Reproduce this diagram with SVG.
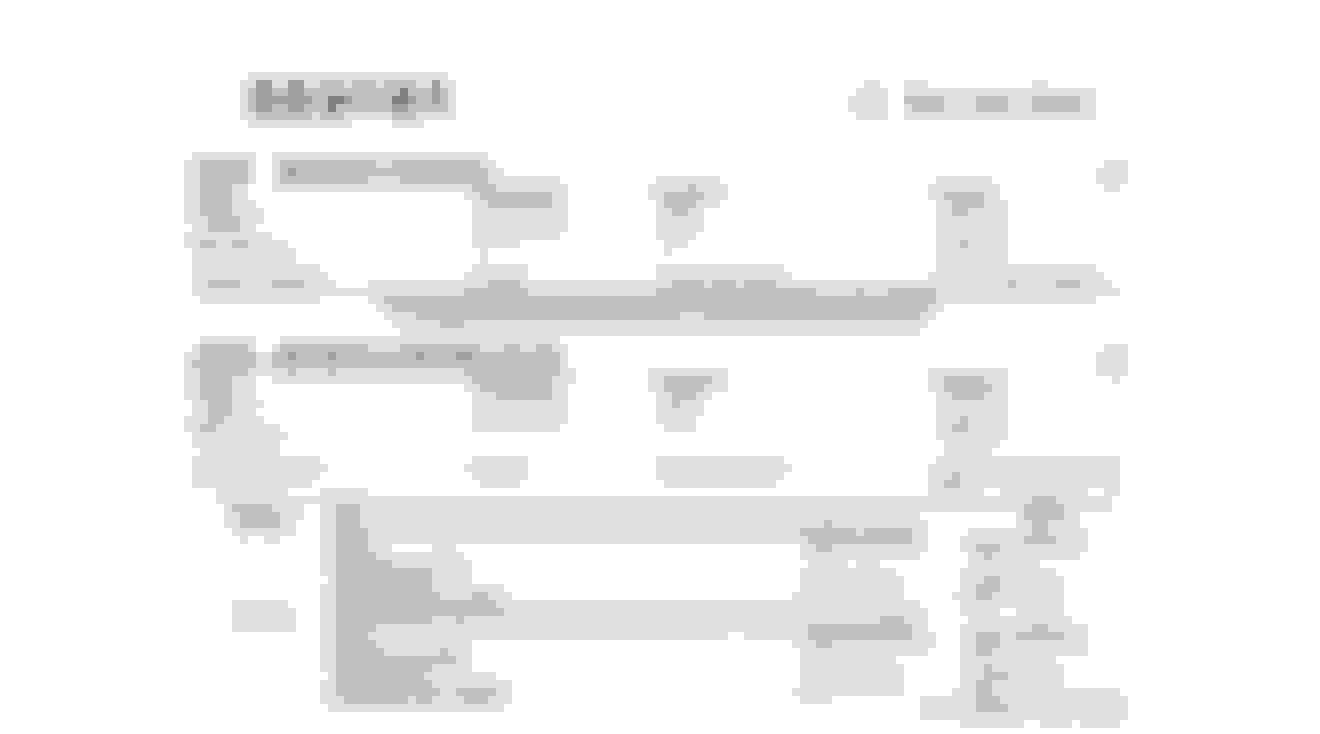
<svg xmlns="http://www.w3.org/2000/svg" width="1320" height="734" viewBox="0 0 1320 734">
<style>
rect{shape-rendering:crispEdges}
.l{fill:#e0e0e0}.m{fill:#c0c0c0}.d{fill:#a0a0a0}.k{fill:#808080}
</style>
<rect x="0" y="0" width="1320" height="734" fill="#ffffff"/>
<g id="connectors">
<rect class="l" x="336" y="288" width="32" height="8"/>
<rect class="l" x="480" y="248" width="8" height="16"/>
<rect class="l" x="216" y="496" width="104" height="8"/>
<rect class="l" x="256" y="352" width="16" height="24"/>
<rect class="l" x="856" y="496" width="256" height="16"/>
</g>
<g id="title">
<rect class="l" x="248" y="72" width="200" height="8"/>
<rect class="l" x="240" y="80" width="216" height="40"/>
<rect class="l" x="248" y="120" width="104" height="8"/>
<rect class="l" x="392" y="120" width="32" height="8"/>
<rect class="m" x="256" y="80" width="16" height="8"/>
<rect class="m" x="288" y="80" width="16" height="8"/>
<rect class="m" x="320" y="80" width="24" height="8"/>
<rect class="m" x="352" y="80" width="24" height="8"/>
<rect class="m" x="384" y="80" width="32" height="8"/>
<rect class="m" x="432" y="80" width="8" height="8"/>
<rect class="m" x="248" y="88" width="200" height="24"/>
<rect class="m" x="256" y="112" width="56" height="8"/>
<rect class="m" x="320" y="112" width="24" height="8"/>
<rect class="m" x="392" y="112" width="24" height="8"/>
<rect class="d" x="256" y="80" width="16" height="32"/>
<rect class="d" x="288" y="80" width="16" height="32"/>
<rect class="d" x="272" y="96" width="40" height="8"/>
<rect class="k" x="328" y="96" width="16" height="8"/>
<rect class="k" x="328" y="104" width="8" height="8"/>
<rect class="d" x="344" y="96" width="8" height="8"/>
<rect class="d" x="392" y="104" width="16" height="8"/>
<rect class="k" x="400" y="88" width="8" height="8"/>
<rect class="k" x="392" y="96" width="16" height="8"/>
<rect class="d" x="408" y="96" width="8" height="8"/>
<rect class="d" x="432" y="80" width="8" height="24"/>
</g>
<g id="legend">
<rect class="l" x="864" y="80" width="16" height="8"/>
<rect class="l" x="856" y="88" width="32" height="8"/>
<rect class="l" x="848" y="96" width="40" height="16"/>
<rect class="l" x="856" y="112" width="32" height="8"/>
<rect class="l" x="904" y="80" width="24" height="8"/>
<rect class="l" x="1032" y="80" width="16" height="8"/>
<rect class="l" x="904" y="88" width="192" height="32"/>
<rect class="m" x="904" y="96" width="40" height="8"/>
<rect class="m" x="912" y="104" width="32" height="8"/>
<rect class="m" x="976" y="96" width="32" height="16"/>
<rect class="m" x="1032" y="96" width="48" height="16"/>
</g>
<g id="r1-actor">
<rect class="l" x="192" y="152" width="64" height="8"/>
<rect class="l" x="184" y="160" width="72" height="24"/>
<rect class="l" x="184" y="184" width="64" height="16"/>
<rect class="l" x="184" y="200" width="72" height="8"/>
<rect class="l" x="184" y="208" width="80" height="16"/>
<rect class="l" x="192" y="224" width="64" height="8"/>
<rect class="l" x="184" y="232" width="88" height="8"/>
<rect class="l" x="184" y="240" width="104" height="8"/>
<rect class="l" x="192" y="248" width="104" height="8"/>
<rect class="m" x="200" y="160" width="48" height="24"/>
<rect class="m" x="200" y="184" width="32" height="32"/>
<rect class="m" x="208" y="216" width="32" height="16"/>
<rect class="m" x="200" y="240" width="16" height="8"/>
<rect class="m" x="232" y="240" width="16" height="8"/>
</g>
<g id="r1-label">
<rect class="l" x="192" y="256" width="104" height="8"/>
<rect class="l" x="192" y="264" width="128" height="8"/>
<rect class="l" x="192" y="272" width="136" height="8"/>
<rect class="l" x="192" y="280" width="144" height="16"/>
<rect class="l" x="200" y="296" width="120" height="8"/>
<rect class="m" x="208" y="280" width="32" height="8"/>
<rect class="m" x="272" y="280" width="32" height="8"/>
</g>
<g id="r1-header">
<rect class="l" x="272" y="152" width="216" height="8"/>
<rect class="l" x="272" y="160" width="224" height="8"/>
<rect class="l" x="272" y="168" width="232" height="8"/>
<rect class="l" x="272" y="176" width="288" height="8"/>
<rect class="l" x="272" y="184" width="296" height="8"/>
<rect class="l" x="464" y="192" width="104" height="8"/>
<rect class="l" x="472" y="200" width="96" height="32"/>
<rect class="l" x="472" y="232" width="88" height="8"/>
<rect class="l" x="472" y="240" width="48" height="8"/>
<rect class="m" x="280" y="160" width="96" height="8"/>
<rect class="m" x="392" y="160" width="88" height="8"/>
<rect class="m" x="280" y="168" width="208" height="8"/>
<rect class="m" x="280" y="176" width="88" height="8"/>
<rect class="m" x="400" y="176" width="88" height="8"/>
<rect class="m" x="472" y="184" width="24" height="8"/>
<rect class="m" x="480" y="192" width="72" height="8"/>
<rect class="m" x="488" y="200" width="64" height="8"/>
<rect class="d" x="288" y="168" width="8" height="8"/>
</g>
<g id="r1-band">
<rect class="l" x="472" y="264" width="56" height="8"/>
<rect class="l" x="656" y="264" width="128" height="8"/>
<rect class="l" x="464" y="272" width="64" height="8"/>
<rect class="l" x="656" y="272" width="136" height="8"/>
<rect class="l" x="368" y="280" width="568" height="24"/>
<rect class="l" x="376" y="304" width="568" height="8"/>
<rect class="l" x="384" y="312" width="552" height="8"/>
<rect class="l" x="392" y="320" width="536" height="8"/>
<rect class="l" x="400" y="328" width="520" height="8"/>
<rect class="m" x="488" y="280" width="32" height="8"/>
<rect class="m" x="672" y="280" width="32" height="8"/>
<rect class="m" x="712" y="280" width="24" height="8"/>
<rect class="m" x="744" y="280" width="32" height="8"/>
<rect class="m" x="464" y="288" width="64" height="8"/>
<rect class="m" x="656" y="288" width="160" height="8"/>
<rect class="m" x="856" y="288" width="8" height="8"/>
<rect class="m" x="888" y="288" width="48" height="8"/>
<rect class="m" x="384" y="296" width="552" height="8"/>
<rect class="m" x="392" y="304" width="536" height="8"/>
<rect class="m" x="416" y="312" width="264" height="8"/>
<rect class="m" x="704" y="312" width="216" height="8"/>
<rect class="m" x="440" y="320" width="24" height="8"/>
</g>
<g id="r1-funnel">
<rect class="l" x="656" y="176" width="64" height="8"/>
<rect class="l" x="648" y="184" width="80" height="16"/>
<rect class="l" x="656" y="200" width="64" height="8"/>
<rect class="l" x="656" y="208" width="48" height="24"/>
<rect class="l" x="656" y="232" width="40" height="8"/>
<rect class="l" x="664" y="240" width="24" height="8"/>
<rect class="l" x="664" y="248" width="8" height="8"/>
<rect class="m" x="688" y="184" width="8" height="8"/>
<rect class="m" x="664" y="192" width="40" height="8"/>
<rect class="m" x="664" y="200" width="32" height="8"/>
<rect class="m" x="672" y="208" width="16" height="8"/>
</g>
<g id="r1-right">
<rect class="l" x="936" y="176" width="56" height="8"/>
<rect class="l" x="928" y="184" width="72" height="16"/>
<rect class="l" x="936" y="200" width="72" height="64"/>
<rect class="l" x="936" y="264" width="160" height="8"/>
<rect class="l" x="928" y="272" width="176" height="8"/>
<rect class="l" x="936" y="280" width="176" height="8"/>
<rect class="l" x="936" y="288" width="184" height="8"/>
<rect class="l" x="936" y="296" width="160" height="8"/>
<rect class="m" x="944" y="192" width="40" height="8"/>
<rect class="m" x="952" y="200" width="32" height="8"/>
<rect class="m" x="952" y="208" width="16" height="8"/>
<rect class="m" x="960" y="240" width="8" height="8"/>
<rect class="m" x="1008" y="280" width="8" height="8"/>
<rect class="m" x="1056" y="280" width="24" height="8"/>
</g>
<g id="r1-circle">
<rect class="l" x="1104" y="160" width="24" height="8"/>
<rect class="l" x="1096" y="168" width="32" height="16"/>
<rect class="l" x="1104" y="184" width="16" height="8"/>
</g>
<g id="r2-actor">
<rect class="l" x="200" y="336" width="56" height="8"/>
<rect class="l" x="192" y="344" width="64" height="8"/>
<rect class="l" x="184" y="352" width="72" height="48"/>
<rect class="l" x="192" y="400" width="72" height="8"/>
<rect class="l" x="192" y="408" width="64" height="8"/>
<rect class="l" x="184" y="416" width="80" height="8"/>
<rect class="l" x="184" y="424" width="96" height="8"/>
<rect class="l" x="192" y="432" width="96" height="8"/>
<rect class="l" x="192" y="440" width="88" height="8"/>
<rect class="l" x="200" y="448" width="80" height="8"/>
<rect class="m" x="200" y="344" width="48" height="8"/>
<rect class="m" x="200" y="352" width="56" height="8"/>
<rect class="m" x="192" y="360" width="64" height="8"/>
<rect class="m" x="200" y="368" width="48" height="8"/>
<rect class="m" x="200" y="376" width="32" height="24"/>
<rect class="m" x="208" y="400" width="24" height="16"/>
<rect class="m" x="208" y="416" width="16" height="8"/>
<rect class="m" x="200" y="424" width="16" height="8"/>
</g>
<g id="r2-label">
<rect class="l" x="192" y="456" width="128" height="8"/>
<rect class="l" x="192" y="464" width="136" height="8"/>
<rect class="l" x="192" y="472" width="128" height="8"/>
<rect class="l" x="192" y="480" width="120" height="8"/>
<rect class="l" x="216" y="488" width="72" height="8"/>
</g>
<g id="r2-small">
<rect class="l" x="224" y="504" width="80" height="16"/>
<rect class="l" x="224" y="520" width="72" height="8"/>
<rect class="l" x="232" y="528" width="64" height="8"/>
<rect class="l" x="240" y="536" width="8" height="8"/>
<rect class="l" x="264" y="536" width="16" height="8"/>
<rect class="m" x="232" y="504" width="40" height="8"/>
<rect class="m" x="240" y="512" width="40" height="16"/>
</g>
<g id="left-box">
<rect class="l" x="232" y="600" width="56" height="8"/>
<rect class="l" x="232" y="608" width="64" height="24"/>
</g>
<g id="r2-header">
<rect class="l" x="280" y="336" width="280" height="8"/>
<rect class="l" x="272" y="344" width="296" height="8"/>
<rect class="l" x="272" y="352" width="296" height="16"/>
<rect class="l" x="272" y="368" width="304" height="16"/>
<rect class="l" x="464" y="384" width="104" height="8"/>
<rect class="l" x="472" y="392" width="96" height="32"/>
<rect class="l" x="472" y="424" width="88" height="8"/>
<rect class="m" x="280" y="344" width="88" height="8"/>
<rect class="m" x="400" y="344" width="80" height="8"/>
<rect class="m" x="504" y="344" width="16" height="8"/>
<rect class="m" x="536" y="344" width="16" height="8"/>
<rect class="m" x="272" y="352" width="288" height="16"/>
<rect class="m" x="464" y="368" width="96" height="8"/>
<rect class="m" x="472" y="376" width="80" height="8"/>
<rect class="m" x="480" y="384" width="72" height="8"/>
<rect class="m" x="496" y="392" width="56" height="8"/>
<rect class="m" x="288" y="368" width="8" height="8"/>
<rect class="m" x="328" y="368" width="8" height="8"/>
<rect class="d" x="288" y="352" width="8" height="8"/>
<rect class="d" x="328" y="352" width="8" height="8"/>
<rect class="d" x="416" y="352" width="8" height="8"/>
<rect class="d" x="456" y="352" width="16" height="8"/>
</g>
<g id="r2-box1">
<rect class="l" x="472" y="456" width="56" height="8"/>
<rect class="l" x="464" y="464" width="64" height="8"/>
<rect class="l" x="472" y="472" width="56" height="8"/>
<rect class="l" x="480" y="480" width="40" height="8"/>
</g>
<g id="r2-funnel">
<rect class="l" x="648" y="368" width="80" height="24"/>
<rect class="l" x="656" y="392" width="56" height="8"/>
<rect class="l" x="656" y="400" width="48" height="16"/>
<rect class="l" x="656" y="416" width="40" height="8"/>
<rect class="l" x="664" y="424" width="32" height="8"/>
<rect class="m" x="664" y="376" width="48" height="8"/>
<rect class="m" x="664" y="384" width="40" height="8"/>
<rect class="m" x="672" y="392" width="24" height="8"/>
<rect class="m" x="672" y="400" width="8" height="8"/>
</g>
<g id="r2-box2">
<rect class="l" x="656" y="456" width="128" height="8"/>
<rect class="l" x="656" y="464" width="136" height="8"/>
<rect class="l" x="656" y="472" width="128" height="8"/>
<rect class="l" x="664" y="480" width="112" height="8"/>
</g>
<g id="r2-right">
<rect class="l" x="928" y="368" width="80" height="24"/>
<rect class="l" x="936" y="392" width="72" height="48"/>
<rect class="l" x="944" y="440" width="56" height="8"/>
<rect class="l" x="944" y="448" width="48" height="8"/>
<rect class="l" x="936" y="456" width="184" height="8"/>
<rect class="l" x="928" y="464" width="192" height="24"/>
<rect class="l" x="928" y="488" width="56" height="8"/>
<rect class="l" x="1000" y="488" width="88" height="8"/>
<rect class="l" x="1104" y="488" width="16" height="8"/>
<rect class="m" x="944" y="376" width="40" height="8"/>
<rect class="m" x="944" y="384" width="48" height="8"/>
<rect class="m" x="952" y="392" width="32" height="8"/>
<rect class="m" x="960" y="416" width="8" height="8"/>
<rect class="m" x="952" y="424" width="16" height="8"/>
<rect class="m" x="952" y="472" width="8" height="8"/>
<rect class="m" x="944" y="480" width="16" height="8"/>
</g>
<g id="r2-circle">
<rect class="l" x="1104" y="344" width="24" height="8"/>
<rect class="l" x="1096" y="352" width="32" height="24"/>
<rect class="l" x="1112" y="376" width="8" height="8"/>
</g>
<g id="bottom-main">
<rect class="l" x="320" y="488" width="48" height="8"/>
<rect class="l" x="320" y="496" width="560" height="48"/>
<rect class="l" x="320" y="544" width="72" height="8"/>
<rect class="l" x="432" y="544" width="24" height="8"/>
<rect class="l" x="320" y="552" width="144" height="8"/>
<rect class="l" x="320" y="560" width="152" height="16"/>
<rect class="l" x="328" y="576" width="144" height="8"/>
<rect class="l" x="320" y="584" width="184" height="8"/>
<rect class="l" x="320" y="592" width="192" height="8"/>
<rect class="l" x="320" y="600" width="560" height="32"/>
<rect class="l" x="320" y="632" width="408" height="8"/>
<rect class="l" x="744" y="632" width="136" height="8"/>
<rect class="l" x="320" y="640" width="152" height="32"/>
<rect class="l" x="328" y="672" width="168" height="8"/>
<rect class="l" x="320" y="680" width="192" height="24"/>
<rect class="l" x="328" y="704" width="176" height="8"/>
<rect class="m" x="336" y="504" width="24" height="24"/>
<rect class="m" x="336" y="528" width="32" height="24"/>
<rect class="m" x="336" y="552" width="40" height="8"/>
<rect class="m" x="336" y="560" width="56" height="8"/>
<rect class="m" x="336" y="568" width="96" height="24"/>
<rect class="m" x="336" y="592" width="104" height="8"/>
<rect class="m" x="472" y="592" width="16" height="8"/>
<rect class="m" x="336" y="600" width="160" height="8"/>
<rect class="m" x="336" y="608" width="168" height="8"/>
<rect class="m" x="336" y="616" width="96" height="8"/>
<rect class="m" x="456" y="616" width="8" height="8"/>
<rect class="m" x="336" y="624" width="40" height="8"/>
<rect class="m" x="336" y="632" width="32" height="8"/>
<rect class="m" x="336" y="640" width="40" height="8"/>
<rect class="m" x="336" y="648" width="48" height="8"/>
<rect class="m" x="440" y="648" width="8" height="8"/>
<rect class="m" x="336" y="656" width="120" height="8"/>
<rect class="m" x="336" y="664" width="96" height="8"/>
<rect class="m" x="336" y="672" width="88" height="8"/>
<rect class="m" x="336" y="680" width="96" height="8"/>
<rect class="m" x="336" y="688" width="104" height="8"/>
<rect class="m" x="456" y="688" width="40" height="8"/>
<rect class="m" x="344" y="696" width="64" height="8"/>
<rect class="m" x="416" y="696" width="16" height="8"/>
<rect class="m" x="464" y="696" width="24" height="8"/>
</g>
<g id="bottom-mid">
<rect class="l" x="856" y="512" width="64" height="8"/>
<rect class="l" x="856" y="520" width="72" height="24"/>
<rect class="l" x="800" y="544" width="128" height="8"/>
<rect class="l" x="800" y="552" width="120" height="8"/>
<rect class="l" x="808" y="560" width="40" height="8"/>
<rect class="l" x="856" y="560" width="24" height="8"/>
<rect class="l" x="800" y="568" width="96" height="8"/>
<rect class="l" x="800" y="576" width="104" height="16"/>
<rect class="l" x="792" y="592" width="112" height="8"/>
<rect class="l" x="856" y="600" width="64" height="8"/>
<rect class="l" x="856" y="608" width="72" height="24"/>
<rect class="l" x="856" y="632" width="80" height="8"/>
<rect class="l" x="792" y="640" width="144" height="8"/>
<rect class="l" x="800" y="648" width="128" height="8"/>
<rect class="l" x="800" y="656" width="96" height="8"/>
<rect class="l" x="800" y="664" width="104" height="24"/>
<rect class="l" x="792" y="688" width="112" height="8"/>
<rect class="l" x="800" y="696" width="32" height="8"/>
<rect class="m" x="824" y="520" width="8" height="8"/>
<rect class="m" x="800" y="528" width="56" height="8"/>
<rect class="m" x="864" y="528" width="48" height="8"/>
<rect class="m" x="808" y="536" width="104" height="8"/>
<rect class="m" x="816" y="544" width="16" height="8"/>
<rect class="m" x="880" y="616" width="24" height="8"/>
<rect class="m" x="808" y="624" width="104" height="16"/>
<rect class="m" x="816" y="640" width="16" height="8"/>
</g>
<g id="bottom-right">
<rect class="l" x="1016" y="512" width="64" height="16"/>
<rect class="l" x="968" y="528" width="120" height="8"/>
<rect class="l" x="960" y="536" width="128" height="16"/>
<rect class="l" x="968" y="552" width="112" height="8"/>
<rect class="l" x="968" y="560" width="72" height="8"/>
<rect class="l" x="960" y="568" width="96" height="8"/>
<rect class="l" x="960" y="576" width="104" height="16"/>
<rect class="l" x="952" y="592" width="112" height="8"/>
<rect class="l" x="960" y="600" width="104" height="8"/>
<rect class="l" x="960" y="608" width="40" height="8"/>
<rect class="l" x="1016" y="608" width="48" height="8"/>
<rect class="l" x="968" y="616" width="104" height="8"/>
<rect class="l" x="960" y="624" width="128" height="32"/>
<rect class="l" x="960" y="656" width="96" height="8"/>
<rect class="l" x="960" y="664" width="104" height="24"/>
<rect class="l" x="952" y="688" width="168" height="8"/>
<rect class="l" x="920" y="696" width="208" height="24"/>
<rect class="l" x="960" y="720" width="64" height="8"/>
<rect class="l" x="1040" y="720" width="32" height="8"/>
<rect class="l" x="1080" y="720" width="40" height="8"/>
<rect class="m" x="1032" y="496" width="24" height="8"/>
<rect class="m" x="1024" y="504" width="40" height="16"/>
<rect class="m" x="1032" y="520" width="16" height="16"/>
<rect class="m" x="1024" y="536" width="32" height="8"/>
<rect class="m" x="976" y="544" width="24" height="8"/>
<rect class="m" x="984" y="552" width="8" height="8"/>
<rect class="m" x="984" y="576" width="16" height="8"/>
<rect class="m" x="976" y="584" width="24" height="8"/>
<rect class="m" x="976" y="592" width="16" height="8"/>
<rect class="m" x="1032" y="624" width="16" height="8"/>
<rect class="m" x="976" y="632" width="24" height="16"/>
<rect class="m" x="1016" y="632" width="48" height="8"/>
<rect class="m" x="976" y="648" width="16" height="8"/>
<rect class="m" x="984" y="664" width="8" height="8"/>
<rect class="m" x="984" y="672" width="24" height="8"/>
<rect class="m" x="976" y="680" width="16" height="16"/>
<rect class="m" x="976" y="696" width="24" height="8"/>
<rect class="m" x="976" y="704" width="32" height="8"/>
</g>
</svg>
